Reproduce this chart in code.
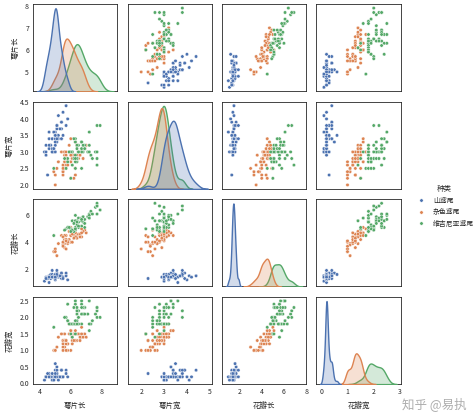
import numpy as np, pandas as pd, seaborn as sns, matplotlib
matplotlib.use("Agg")
import matplotlib.pyplot as plt

setosa = """5.1,3.5,1.4,0.2 4.9,3.0,1.4,0.2 4.7,3.2,1.3,0.2 4.6,3.1,1.5,0.2 5.0,3.6,1.4,0.2 5.4,3.9,1.7,0.4 4.6,3.4,1.4,0.3 5.0,3.4,1.5,0.2 4.4,2.9,1.4,0.2 4.9,3.1,1.5,0.1 5.4,3.7,1.5,0.2 4.8,3.4,1.6,0.2 4.8,3.0,1.4,0.1 4.3,3.0,1.1,0.1 5.8,4.0,1.2,0.2 5.7,4.4,1.5,0.4 5.4,3.9,1.3,0.4 5.1,3.5,1.4,0.3 5.7,3.8,1.7,0.3 5.1,3.8,1.5,0.3 5.4,3.4,1.7,0.2 5.1,3.7,1.5,0.4 4.6,3.6,1.0,0.2 5.1,3.3,1.7,0.5 4.8,3.4,1.9,0.2 5.0,3.0,1.6,0.2 5.0,3.4,1.6,0.4 5.2,3.5,1.5,0.2 5.2,3.4,1.4,0.2 4.7,3.2,1.6,0.2 4.8,3.1,1.6,0.2 5.4,3.4,1.5,0.4 5.2,4.1,1.5,0.1 5.5,4.2,1.4,0.2 4.9,3.1,1.5,0.2 5.0,3.2,1.2,0.2 5.5,3.5,1.3,0.2 4.9,3.6,1.4,0.1 4.4,3.0,1.3,0.2 5.1,3.4,1.5,0.2 5.0,3.5,1.3,0.3 4.5,2.3,1.3,0.3 4.4,3.2,1.3,0.2 5.0,3.5,1.6,0.6 5.1,3.8,1.9,0.4 4.8,3.0,1.4,0.3 5.1,3.8,1.6,0.2 4.6,3.2,1.4,0.2 5.3,3.7,1.5,0.2 5.0,3.3,1.4,0.2"""
versicolor = """7.0,3.2,4.7,1.4 6.4,3.2,4.5,1.5 6.9,3.1,4.9,1.5 5.5,2.3,4.0,1.3 6.5,2.8,4.6,1.5 5.7,2.8,4.5,1.3 6.3,3.3,4.7,1.6 4.9,2.4,3.3,1.0 6.6,2.9,4.6,1.3 5.2,2.7,3.9,1.4 5.0,2.0,3.5,1.0 5.9,3.0,4.2,1.5 6.0,2.2,4.0,1.0 6.1,2.9,4.7,1.4 5.6,2.9,3.6,1.3 6.7,3.1,4.4,1.4 5.6,3.0,4.5,1.5 5.8,2.7,4.1,1.0 6.2,2.2,4.5,1.5 5.6,2.5,3.9,1.1 5.9,3.2,4.8,1.8 6.1,2.8,4.0,1.3 6.3,2.5,4.9,1.5 6.1,2.8,4.7,1.2 6.4,2.9,4.3,1.3 6.6,3.0,4.4,1.4 6.8,2.8,4.8,1.4 6.7,3.0,5.0,1.7 6.0,2.9,4.5,1.5 5.7,2.6,3.5,1.0 5.5,2.4,3.8,1.1 5.5,2.4,3.7,1.0 5.8,2.7,3.9,1.2 6.0,2.7,5.1,1.6 5.4,3.0,4.5,1.5 6.0,3.4,4.5,1.6 6.7,3.1,4.7,1.5 6.3,2.3,4.4,1.3 5.6,3.0,4.1,1.3 5.5,2.5,4.0,1.3 5.5,2.6,4.4,1.2 6.1,3.0,4.6,1.4 5.8,2.6,4.0,1.2 5.0,2.3,3.3,1.0 5.6,2.7,4.2,1.3 5.7,3.0,4.2,1.2 5.7,2.9,4.2,1.3 6.2,2.9,4.3,1.3 5.1,2.5,3.0,1.1 5.7,2.8,4.1,1.3"""
virginica = """6.3,3.3,6.0,2.5 5.8,2.7,5.1,1.9 7.1,3.0,5.9,2.1 6.3,2.9,5.6,1.8 6.5,3.0,5.8,2.2 7.6,3.0,6.6,2.1 4.9,2.5,4.5,1.7 7.3,2.9,6.3,1.8 6.7,2.5,5.8,1.8 7.2,3.6,6.1,2.5 6.5,3.2,5.1,2.0 6.4,2.7,5.3,1.9 6.8,3.0,5.5,2.1 5.7,2.5,5.0,2.0 5.8,2.8,5.1,2.4 6.4,3.2,5.3,2.3 6.5,3.0,5.5,1.8 7.7,3.8,6.7,2.2 7.7,2.6,6.9,2.3 6.0,2.2,5.0,1.5 6.9,3.2,5.7,2.3 5.6,2.8,4.9,2.0 7.7,2.8,6.7,2.0 6.3,2.7,4.9,1.8 6.7,3.3,5.7,2.1 7.2,3.2,6.0,1.8 6.2,2.8,4.8,1.8 6.1,3.0,4.9,1.8 6.4,2.8,5.6,2.1 7.2,3.0,5.8,1.6 7.4,2.8,6.1,1.9 7.9,3.8,6.4,2.0 6.4,2.8,5.6,2.2 6.3,2.8,5.1,1.5 6.1,2.6,5.6,1.4 7.7,3.0,6.1,2.3 6.3,3.4,5.6,2.4 6.4,3.1,5.5,1.8 6.0,3.0,4.8,1.8 6.9,3.1,5.4,2.1 6.7,3.1,5.6,2.4 6.9,3.1,5.1,2.3 5.8,2.7,5.1,1.9 6.8,3.2,5.9,2.3 6.7,3.3,5.7,2.5 6.7,3.0,5.2,2.3 6.3,2.5,5.0,1.9 6.5,3.0,5.2,2.0 6.2,3.4,5.4,2.3 5.9,3.0,5.1,1.8"""

columns = ["萼片长", "萼片宽", "花瓣长", "花瓣宽"]
species = ["山鸢尾", "杂色鸢尾", "维吉尼亚鸢尾"]

rows = []
for name, block in zip(species, [setosa, versicolor, virginica]):
    for rec in block.split():
        rows.append([float(v) for v in rec.split(",")] + [name])
df = pd.DataFrame(rows, columns=columns + ["种类"])

sns.set_theme(style="white", font_scale=0.45)
plt.rcParams['font.family'] = ['Noto Sans CJK SC', 'DejaVu Sans']
plt.rcParams['axes.unicode_minus'] = False

g = sns.pairplot(df, hue="种类", height=1.0, plot_kws=dict(s=6, linewidth=0.3))
g.figure.set_size_inches(4.74, 4.13)
g.figure.subplots_adjust(left=0.07, right=0.845, bottom=0.07, top=0.99, wspace=0.12, hspace=0.12)
g._legend.set_bbox_to_anchor((0.86, 0.5))
g._legend._loc = 6
for ax in g.axes.flat:
    ax.tick_params(pad=1, length=2)
    for s in ax.spines.values():
        s.set_visible(True)
        s.set_linewidth(0.6)
g.figure.text(0.985, 0.005, "知乎 @易执", ha="right", va="bottom", fontsize=9, color="#999999", alpha=0.8)
g.figure.savefig("out.png", dpi=100)
